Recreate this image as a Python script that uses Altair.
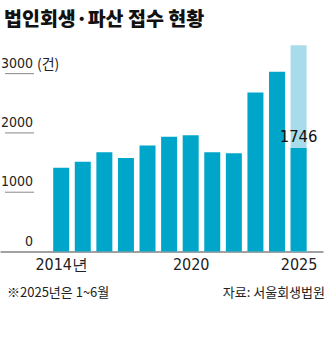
import altair as alt
import pandas as pd

years = list(range(2014, 2026))
values = [1412, 1512, 1676, 1577, 1787, 1934, 1961, 1672, 1659, 2681, 3034, 1746]
proj_year = [2025]
proj_value = [3480]
tick_vals = [0, 1000, 2000, 3000]
tick_labels = ["0", "1000", "2000", "3000"]
x_ticks = [2014, 2020, 2025]

DARK = "#00a6c9"
LIGHT = "#a9dcea"
NUM_FONT = "'DejaVu Sans Condensed', 'Liberation Sans', sans-serif"
KR_FONT = "Noto Sans CJK KR"

df = pd.DataFrame({"year": years, "value": values})
dfp = pd.DataFrame({"year": proj_year, "value": proj_value})
dft = pd.DataFrame({"v": tick_vals, "lab": tick_labels})

xs = alt.Scale(domain=[2011.396, 2025.899], nice=False, zero=False)
ys = alt.Scale(domain=[0, 3500], nice=False)

xaxis = alt.Axis(
    values=x_ticks, ticks=False, grid=False, title=None,
    labelExpr="datum.value == 2014 ? '2014년' : datum.value",
    labelFont=NUM_FONT, labelFontSize=16, labelColor="#222",
    labelPadding=5, domainColor="#444", labelFlush=False,
)

proj = alt.Chart(dfp).mark_bar(width=16, color=LIGHT).encode(
    x=alt.X("year:Q", scale=xs, axis=xaxis),
    y=alt.Y("value:Q", scale=ys, axis=None),
)
bars = alt.Chart(df).mark_bar(width=16, color=DARK).encode(
    x=alt.X("year:Q", scale=xs),
    y=alt.Y("value:Q", scale=ys),
)
last_label = alt.Chart(df[df.year == 2025]).mark_text(
    font=NUM_FONT, fontSize=16.5, color="#111", align="center", baseline="bottom", dy=-3
).encode(
    x=alt.X("year:Q", scale=xs), y=alt.Y("value:Q", scale=ys), text="value:Q"
)

ylabels = alt.Chart(dft).mark_text(
    font=NUM_FONT, fontSize=14, color="#222", align="right", baseline="bottom", dy=-3
).encode(x=alt.value(33), y=alt.Y("v:Q", scale=ys), text="lab:N")
yunit = alt.Chart(dft[dft.v == 3000]).mark_text(
    font=KR_FONT, fontSize=14, color="#222", align="left", baseline="bottom", dy=-2
).encode(x=alt.value(37), y=alt.Y("v:Q", scale=ys), text=alt.value("(건)"))
yrules = alt.Chart(dft[dft.v > 0]).mark_rule(color="#888", strokeWidth=1).encode(
    x=alt.value(5), x2=alt.value(34), y=alt.Y("v:Q", scale=ys)
)

title = alt.Chart(pd.DataFrame({"t": ["법인회생·파산 접수 현황"]})).mark_text(
    font=KR_FONT, fontSize=19.5, fontWeight=900, color="#111", align="left", baseline="middle"
).encode(x=alt.value(4), y=alt.value(-24), text="t:N")
foot_l = alt.Chart(pd.DataFrame({"t": ["※2025년은 1~6월"]})).mark_text(
    font=KR_FONT, fontSize=13, color="#222", align="left", baseline="middle"
).encode(x=alt.value(7), y=alt.value(249), text="t:N")
foot_r = alt.Chart(pd.DataFrame({"t": ["자료: 서울회생법원"]})).mark_text(
    font=KR_FONT, fontSize=13, color="#222", align="right", baseline="middle"
).encode(x=alt.value(325), y=alt.value(249), text="t:N")

chart = alt.layer(proj, bars, last_label, yrules, ylabels, yunit, title, foot_l, foot_r).properties(
    width=323, height=207.5,
    padding={"left": 0, "top": 44, "right": 8, "bottom": 99},
    autosize="none",
    background="white",
).configure_view(stroke=None)

chart.save("out.html", embed_options={"renderer": "svg", "actions": False})
